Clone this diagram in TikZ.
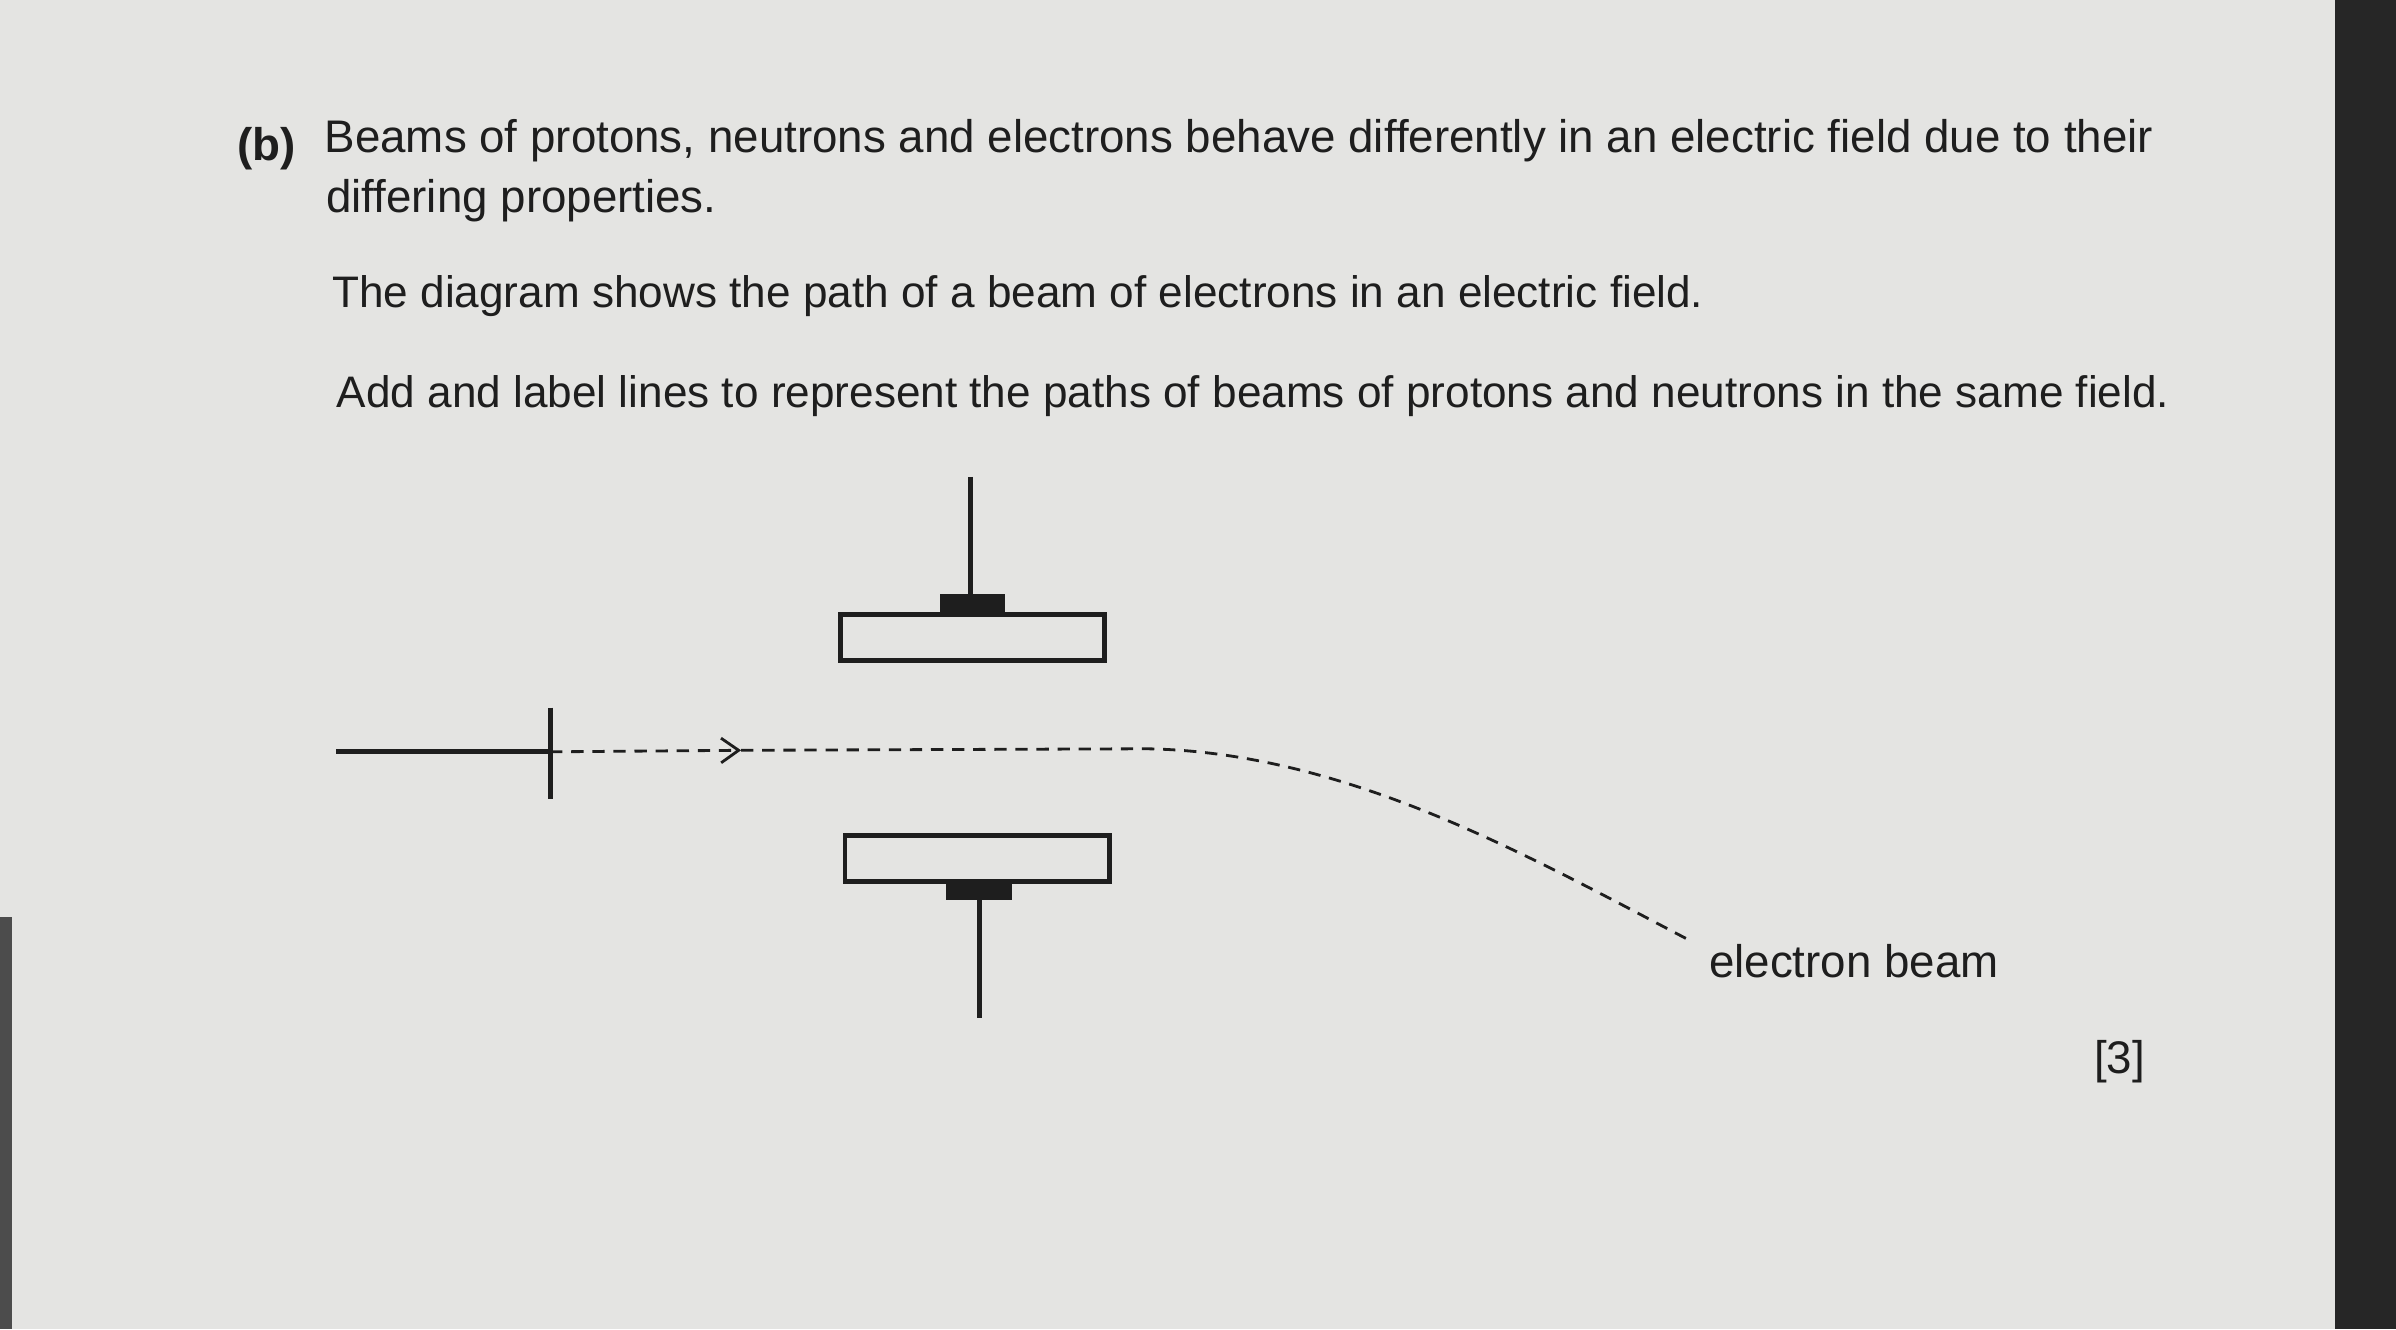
\documentclass[tikz,border=0pt]{standalone}
\usepackage{fontspec}
\setmainfont{Liberation Sans}
\usetikzlibrary{arrows.meta}
\definecolor{paper}{RGB}{228,228,226}
\definecolor{ink}{RGB}{30,30,30}
\tikzset{txt/.style={anchor=west,inner sep=0pt,text=ink,font=\fontsize{13pt}{15pt}\selectfont},
 txtb/.style={txt,font=\fontsize{12.55pt}{15pt}\selectfont},
 plate/.style={draw=ink,line width=1.4pt,fill=paper},
 blk/.style={fill=ink,draw=none},
 wire/.style={draw=ink,line width=1.4pt},
 beam/.style={draw=ink,line width=0.8pt,dash pattern=on 3.5pt off 2.5pt}}
\begin{document}
\begin{tikzpicture}[x=0.01528cm,y=-0.01528cm]
\useasboundingbox (0,0) rectangle (1568,870);
\fill[paper] (0,0) rectangle (1568,870);
\fill[black!85] (1528,0) rectangle (1568,870);
\fill[black!70] (0,600) rectangle (8,870);
\node[txt] (b) at (155,97) {\textbf{(b)}};
\node[txt] (l1) at (212,92) {Beams of protons, neutrons and electrons behave differently in an electric field due to their};
\node[txt] (l2) at (213,131) {differing properties.};
\node[txtb] (l3) at (217,194) {The diagram shows the path of a beam of electrons in an electric field.};
\node[txtb] (l4) at (220,259) {Add and label lines to represent the paths of beams of protons and neutrons in the same field.};
% top plate
\draw[plate] (550,402) rectangle (723,432);
\fill[blk] (615,389) rectangle (658,402);
\draw[wire] (635,312) -- (635,389);
% bottom plate
\draw[plate] (553,547) rectangle (726,577);
\fill[blk] (619,577) rectangle (662,589);
\draw[wire] (641,589) -- (641,666);
% source
\coordinate (s0) at (220,492);
\coordinate (s1) at (360,492);
\draw[wire] (s0) -- (s1);
\draw[wire] (360,463) -- (360,523);
\coordinate (a1) at (485,491);
\draw[beam,-{Straight Barb[length=5pt,width=7pt]}] (s1) -- (a1);
\coordinate (e1) at (1105,615);
\draw[beam] (a1) -- (750,490) .. controls (880,492) and (1000,560) .. (e1);
\node[txt] (eb) at (1118,629) {electron beam};
\node[txt] (m) at (1370,695) {[3]};
\end{tikzpicture}
\end{document}
